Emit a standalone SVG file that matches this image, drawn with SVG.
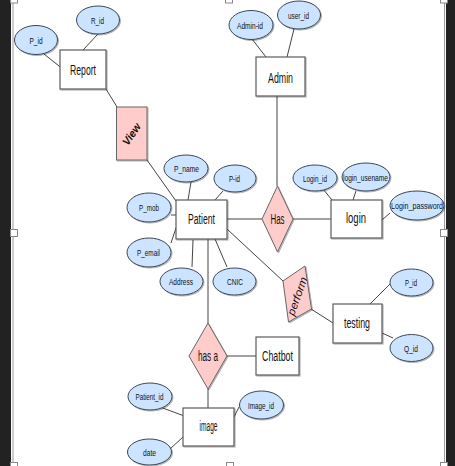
<svg xmlns="http://www.w3.org/2000/svg" width="455" height="466" viewBox="0 0 455 466">
<style>
.ent{fill:#fff;stroke:#5a5a5a;stroke-width:1.2}
.att{fill:#cce4ff;stroke:#3a4658;stroke-width:1}
.rel{fill:#ffcccc;stroke:#666;stroke-width:1}
.ln{stroke:#444;stroke-width:1;fill:none}
.at{font-family:"Liberation Sans",Arial,sans-serif;font-size:9px;fill:#111;text-anchor:middle}
.et{font-family:"Liberation Sans",Arial,sans-serif;font-size:14px;fill:#111;text-anchor:middle}
.hd{fill:#fff;stroke:#888;stroke-width:1}
</style>
<defs>
<filter id="sh" x="-10%" y="-10%" width="130%" height="130%">
<feDropShadow dx="1" dy="1" stdDeviation="0.6" flood-color="#000" flood-opacity="0.3"/>
</filter>
</defs>
<g id="frame">
<rect x="0" y="0" width="455" height="466" fill="#fff"/>
<rect x="0" y="0" width="11" height="466" fill="#222"/>
<rect x="446" y="0" width="9" height="466" fill="#222"/>
<line x1="13" y1="0" x2="13" y2="466" stroke="#999" stroke-width="1"/>
<line x1="444.5" y1="0" x2="444.5" y2="466" stroke="#999" stroke-width="1"/>
<rect class="hd" x="10.5" y="-4" width="7" height="7"/>
<rect class="hd" x="225.5" y="-4" width="7" height="7"/>
<rect class="hd" x="440.5" y="-4" width="7" height="7"/>
<rect class="hd" x="10.5" y="229.5" width="7" height="7"/>
<rect class="hd" x="440.5" y="229.5" width="7" height="7"/>
<rect class="hd" x="10.5" y="462.5" width="7" height="7"/>
<rect class="hd" x="226.5" y="462.5" width="7" height="7"/>
<rect class="hd" x="440.5" y="462.5" width="7" height="7"/>
</g>
<g id="connectors" class="ln">
<line x1="44" y1="54" x2="64" y2="70"/>
<line x1="98" y1="34" x2="83" y2="50"/>
<line x1="106" y1="89" x2="117" y2="107"/>
<line x1="147" y1="160" x2="176" y2="201"/>
<line x1="252" y1="39" x2="266" y2="57"/>
<line x1="294" y1="29" x2="287" y2="57"/>
<line x1="277" y1="96" x2="277" y2="186"/>
<line x1="191" y1="182" x2="188" y2="200"/>
<line x1="223" y1="191" x2="215" y2="200"/>
<line x1="171" y1="215" x2="176" y2="215"/>
<line x1="171" y1="243" x2="176" y2="228"/>
<line x1="192" y1="267" x2="193" y2="240"/>
<line x1="227" y1="267" x2="215" y2="239"/>
<line x1="227" y1="219" x2="262" y2="219"/>
<line x1="293" y1="219" x2="331" y2="219"/>
<line x1="323" y1="189" x2="332" y2="200"/>
<line x1="356" y1="191" x2="353" y2="200"/>
<line x1="390" y1="213" x2="382" y2="220"/>
<line x1="227" y1="229" x2="283" y2="281"/>
<line x1="311" y1="309" x2="333" y2="323"/>
<line x1="370" y1="304" x2="390" y2="284"/>
<line x1="382" y1="333" x2="393" y2="338"/>
<line x1="208" y1="239" x2="208" y2="323"/>
<line x1="227" y1="356" x2="256" y2="356"/>
<line x1="208" y1="389" x2="208" y2="408"/>
<line x1="160" y1="407" x2="187" y2="417"/>
<line x1="239" y1="407" x2="234" y2="417"/>
<line x1="170" y1="449" x2="183" y2="437"/>
</g>
<g id="report"><rect class="ent" filter="url(#sh)" x="60" y="50" width="46" height="39"/><text class="et" x="83" y="75" font-size="13" textLength="26" lengthAdjust="spacingAndGlyphs">Report</text></g>
<g id="report_pid"><ellipse class="att" filter="url(#sh)" cx="36" cy="40" rx="21.5" ry="14.5"/><text class="at" x="36" y="43.5" textLength="13" lengthAdjust="spacingAndGlyphs">P_id</text></g>
<g id="report_rid"><ellipse class="att" filter="url(#sh)" cx="98" cy="20" rx="21.5" ry="14"/><text class="at" x="97.5" y="23.5" textLength="13" lengthAdjust="spacingAndGlyphs">R_id</text></g>
<g id="view"><rect class="rel" filter="url(#sh)" x="116.5" y="107" width="30.5" height="53"/><text x="131.5" y="138" transform="rotate(-56 131.5 134)" font-family="Liberation Sans,Arial,sans-serif" font-size="11" font-weight="bold" font-style="italic" fill="#111" text-anchor="middle" textLength="24" lengthAdjust="spacingAndGlyphs">View</text></g>
<g id="admin"><rect class="ent" filter="url(#sh)" x="256" y="57" width="49" height="39"/><text class="et" x="280.5" y="83" textLength="25" lengthAdjust="spacingAndGlyphs">Admin</text></g>
<g id="admin_id"><ellipse class="att" filter="url(#sh)" cx="251" cy="25" rx="22" ry="14.5"/><text class="at" x="250" y="28.5" textLength="26" lengthAdjust="spacingAndGlyphs">Admin-id</text></g>
<g id="user_id"><ellipse class="att" filter="url(#sh)" cx="299" cy="15" rx="21.5" ry="14"/><text class="at" x="298.5" y="18.5" textLength="21" lengthAdjust="spacingAndGlyphs">user_id</text></g>
<g id="patient"><rect class="ent" filter="url(#sh)" x="176" y="200" width="51" height="39"/><text class="et" x="201.5" y="224" textLength="27" lengthAdjust="spacingAndGlyphs">Patient</text></g>
<g id="p_name"><ellipse class="att" filter="url(#sh)" cx="186" cy="168.5" rx="22" ry="13.5"/><text class="at" x="186.5" y="172" textLength="25" lengthAdjust="spacingAndGlyphs">P_name</text></g>
<g id="p_dash_id"><ellipse class="att" filter="url(#sh)" cx="235" cy="178.5" rx="21" ry="13.5"/><text class="at" x="234.5" y="182" textLength="11" lengthAdjust="spacingAndGlyphs">P-id</text></g>
<g id="p_mob"><ellipse class="att" filter="url(#sh)" cx="149" cy="207.5" rx="22" ry="14.5"/><text class="at" x="149" y="211" textLength="20" lengthAdjust="spacingAndGlyphs">P_mob</text></g>
<g id="p_email"><ellipse class="att" filter="url(#sh)" cx="149" cy="252.5" rx="22" ry="14.5"/><text class="at" x="148.5" y="256" textLength="23" lengthAdjust="spacingAndGlyphs">P_email</text></g>
<g id="address"><ellipse class="att" filter="url(#sh)" cx="181.5" cy="281.5" rx="21.5" ry="13.5"/><text class="at" x="181" y="285" textLength="24" lengthAdjust="spacingAndGlyphs">Address</text></g>
<g id="cnic"><ellipse class="att" filter="url(#sh)" cx="234.5" cy="281.5" rx="21.5" ry="13.5"/><text class="at" x="235" y="285" textLength="16" lengthAdjust="spacingAndGlyphs">CNIC</text></g>
<g id="has"><polygon class="rel" filter="url(#sh)" points="277.5,186 293,219 277.5,252 262,219"/><text class="et" x="277.5" y="224" font-size="13" textLength="14" lengthAdjust="spacingAndGlyphs">Has</text></g>
<g id="login"><rect class="ent" filter="url(#sh)" x="331" y="200" width="51" height="38"/><text class="et" x="356" y="223" textLength="20" lengthAdjust="spacingAndGlyphs">login</text></g>
<g id="login_id"><ellipse class="att" filter="url(#sh)" cx="315" cy="178" rx="22" ry="13"/><text class="at" x="315" y="181.5" textLength="24" lengthAdjust="spacingAndGlyphs">Login_id</text></g>
<g id="login_usename"><ellipse class="att" filter="url(#sh)" cx="366" cy="177" rx="24" ry="14"/><text class="at" x="365.5" y="180.5" textLength="45" lengthAdjust="spacingAndGlyphs">login_usename</text></g>
<g id="login_password"><ellipse class="att" filter="url(#sh)" cx="417" cy="205.5" rx="27" ry="14.5"/><text class="at" x="417" y="209" textLength="52" lengthAdjust="spacingAndGlyphs">Login_password</text></g>
<g id="perform"><polygon class="rel" filter="url(#sh)" points="305,266 311.5,309 288.5,322 283,281"/><text x="297" y="300" transform="rotate(-70 297 296)" font-family="Liberation Sans,Arial,sans-serif" font-size="11" font-style="italic" fill="#111" text-anchor="middle" textLength="40" lengthAdjust="spacingAndGlyphs">perform</text></g>
<g id="testing"><rect class="ent" filter="url(#sh)" x="333" y="304" width="49" height="39"/><text class="et" x="357" y="328" textLength="26" lengthAdjust="spacingAndGlyphs">testing</text></g>
<g id="testing_pid"><ellipse class="att" filter="url(#sh)" cx="411.5" cy="282.5" rx="21.5" ry="13.5"/><text class="at" x="411" y="286" textLength="12" lengthAdjust="spacingAndGlyphs">P_id</text></g>
<g id="q_id"><ellipse class="att" filter="url(#sh)" cx="411.5" cy="348" rx="21.5" ry="13.5"/><text class="at" x="411" y="351.5" textLength="14" lengthAdjust="spacingAndGlyphs">Q_id</text></g>
<g id="has_a"><polygon class="rel" filter="url(#sh)" points="208,323 227,356 208,389 189,356"/><text class="et" x="208" y="361" font-size="13" textLength="20" lengthAdjust="spacingAndGlyphs">has a</text></g>
<g id="chatbot"><rect class="ent" filter="url(#sh)" x="256" y="337" width="43" height="38"/><text class="et" x="277.5" y="361" font-size="13" textLength="31" lengthAdjust="spacingAndGlyphs">Chatbot</text></g>
<g id="image"><rect class="ent" filter="url(#sh)" x="183" y="408" width="51" height="38"/><text class="et" x="208.5" y="431" font-size="10" textLength="18" lengthAdjust="spacingAndGlyphs">image</text></g>
<g id="patient_id"><ellipse class="att" filter="url(#sh)" cx="150" cy="396.5" rx="22" ry="13.5"/><text class="at" x="149.5" y="400" textLength="28" lengthAdjust="spacingAndGlyphs">Patient_id</text></g>
<g id="image_id"><ellipse class="att" filter="url(#sh)" cx="261.5" cy="405" rx="22" ry="14"/><text class="at" x="261" y="408.5" textLength="26" lengthAdjust="spacingAndGlyphs">Image_id</text></g>
<g id="date"><ellipse class="att" filter="url(#sh)" cx="149.5" cy="452" rx="22" ry="13"/><text class="at" x="149.5" y="455.5" textLength="13" lengthAdjust="spacingAndGlyphs">date</text></g>
</svg>
